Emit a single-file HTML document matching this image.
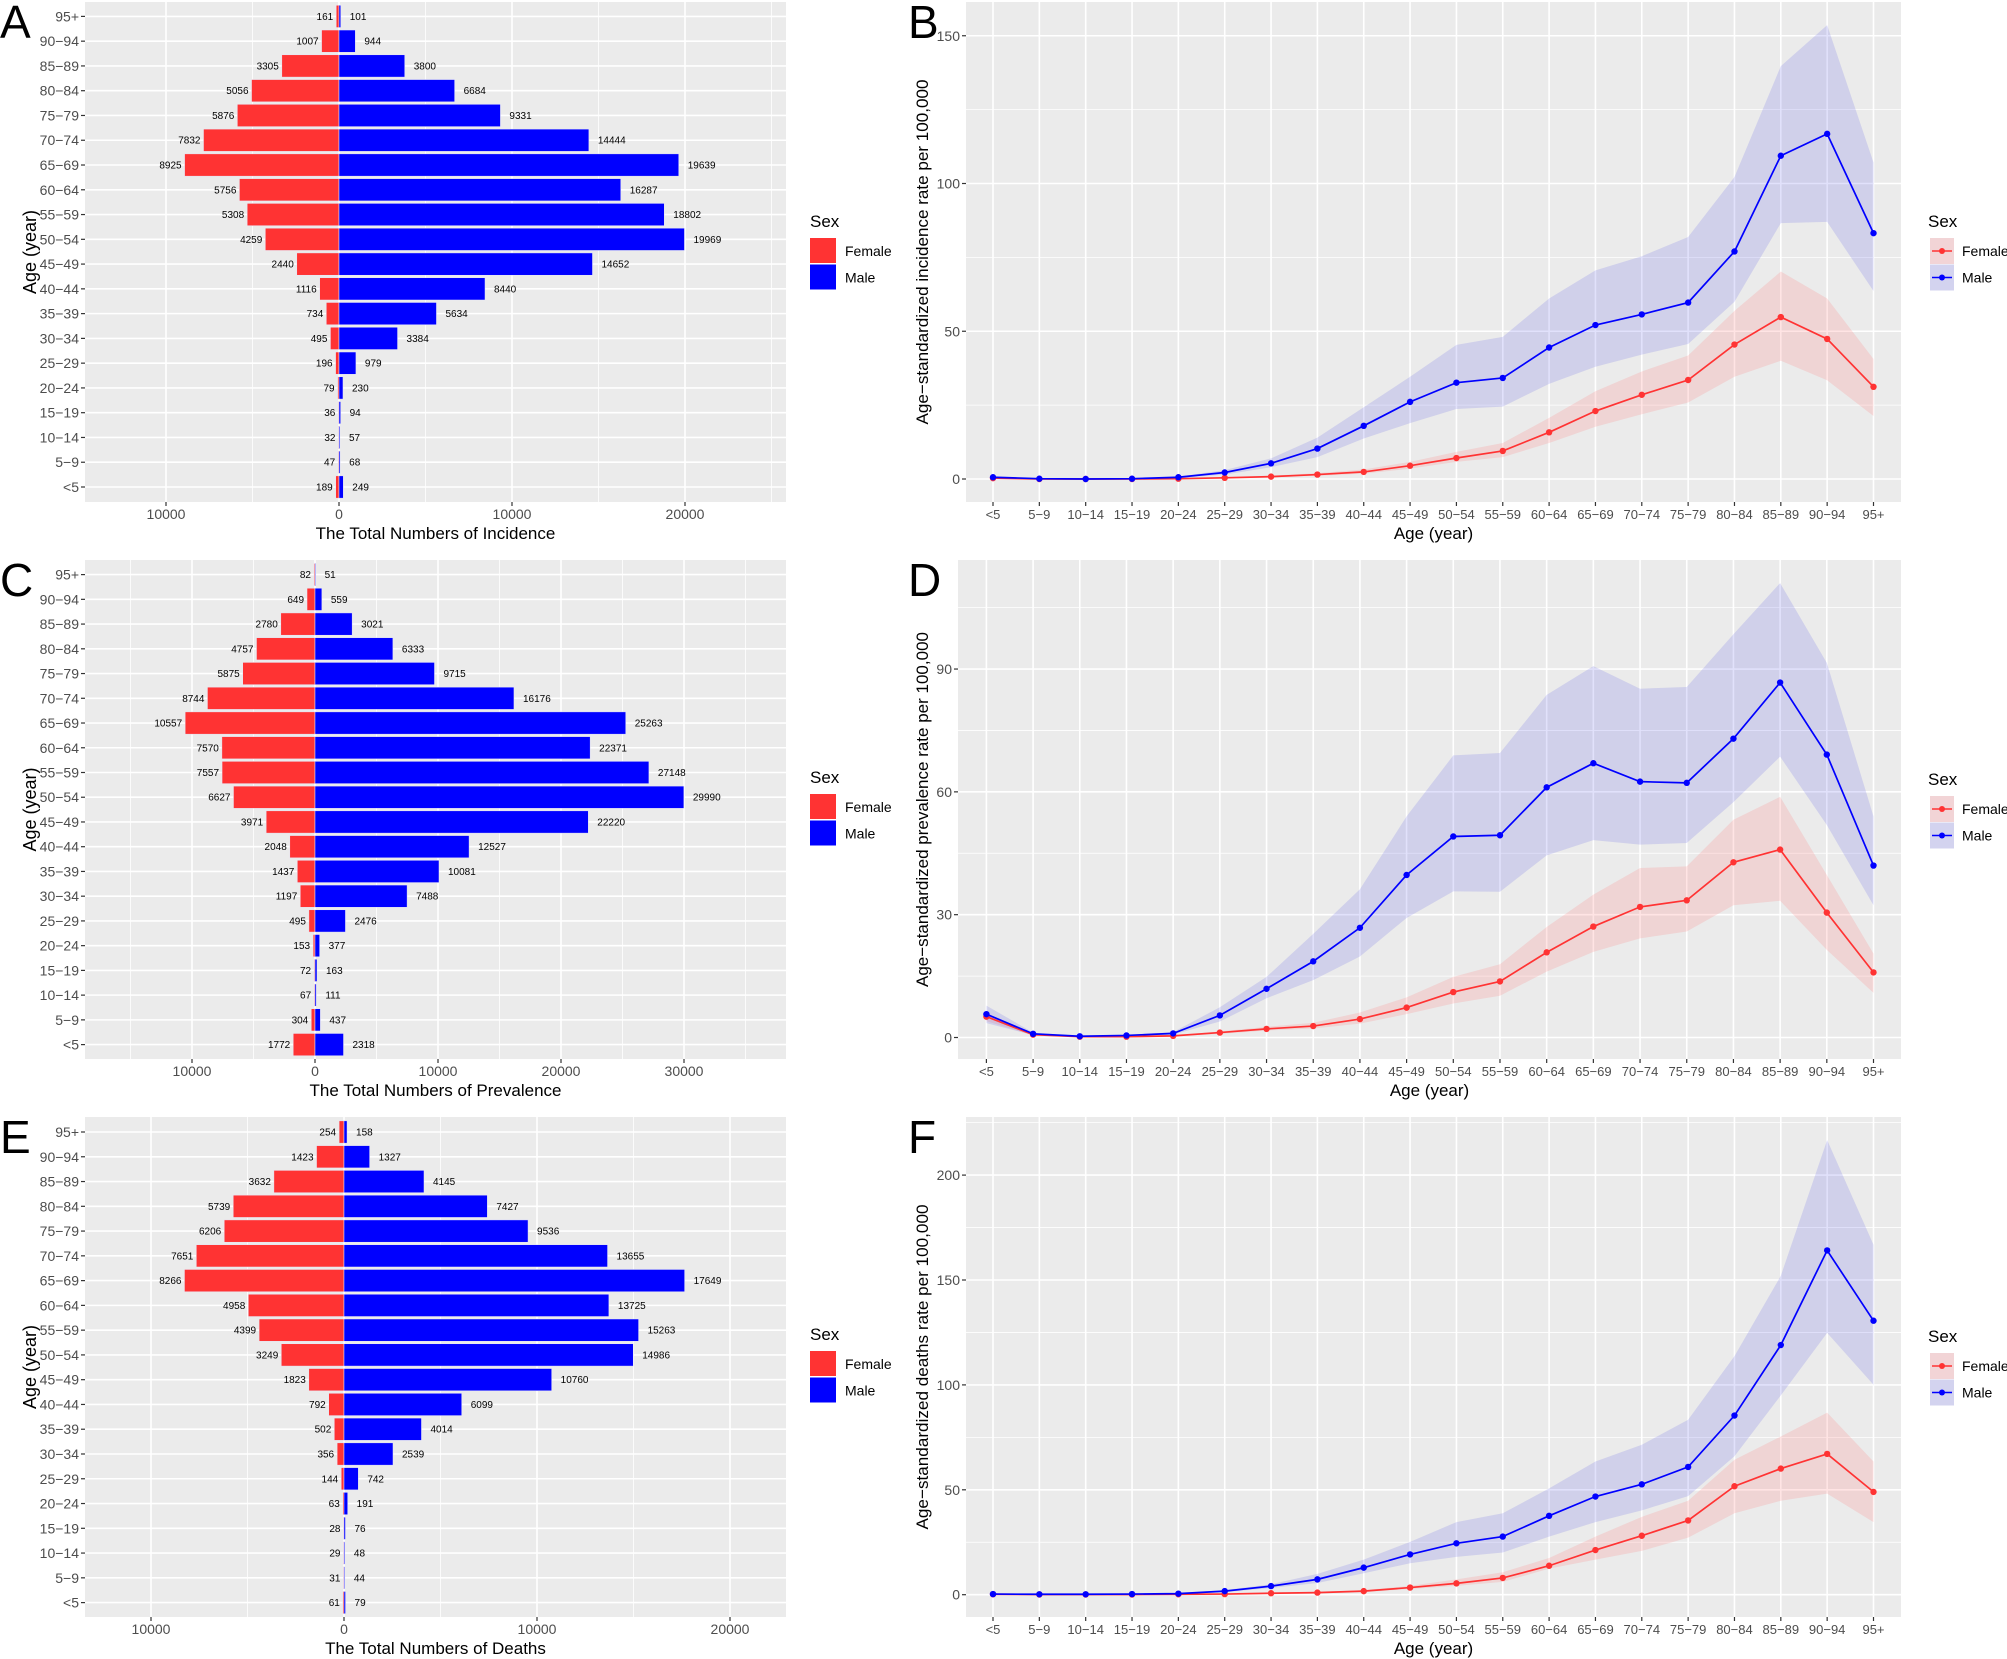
<!DOCTYPE html>
<html><head><meta charset="utf-8">
<style>
html,body{margin:0;padding:0;background:#fff;}
svg{display:block;font-family:"Liberation Sans",Arial,sans-serif;}
</style></head>
<body>
<svg id="fig" width="2007" height="1659" viewBox="0 0 2007 1659" xmlns="http://www.w3.org/2000/svg"></svg>
<script>
const ages = ["<5","5−9","10−14","15−19","20−24","25−29","30−34","35−39","40−44","45−49","50−54","55−59","60−64","65−69","70−74","75−79","80−84","85−89","90−94","95+"];

const incFemale = [189,47,32,36,79,196,495,734,1116,2440,4259,5308,5756,8925,7832,5876,5056,3305,1007,161];
const incMale = [249,68,57,94,230,979,3384,5634,8440,14652,19969,18802,16287,19639,14444,9331,6684,3800,944,101];
const prevFemale = [1772,304,67,72,153,495,1197,1437,2048,3971,6627,7557,7570,10557,8744,5875,4757,2780,649,82];
const prevMale = [2318,437,111,163,377,2476,7488,10081,12527,22220,29990,27148,22371,25263,16176,9715,6333,3021,559,51];
const deathFemale = [61,31,29,28,63,144,356,502,792,1823,3249,4399,4958,8266,7651,6206,5739,3632,1423,254];
const deathMale = [79,44,48,76,191,742,2539,4014,6099,10760,14986,15263,13725,17649,13655,9536,7427,4145,1327,158];

const incRateMale = [0.6,0.1,0,0.1,0.6,2.2,5.3,10.3,18,26.1,32.6,34.2,44.5,52.1,55.7,59.7,77,109.4,116.8,83.2];
const incRateMaleLo = [0.3,0,0,0,0.4,1.5,4,7.4,13.7,18.9,23.7,24.5,32.2,38,42.1,45.7,60,86.6,87,63.6];
const incRateMaleHi = [0.9,0.2,0.1,0.2,0.8,3,7,14,24.3,34.6,45.4,48.1,61.1,70.6,75.4,81.9,102.2,139.7,153.6,107.1];
const incRateFemale = [0.3,0,0,0,0.1,0.4,0.8,1.5,2.4,4.5,7.1,9.5,15.8,23,28.5,33.5,45.5,54.8,47.4,31.2];
const incRateFemaleLo = [0.2,0,0,0,0.05,0.3,0.6,1.1,1.8,3.5,5.8,7.4,12.2,17.7,21.9,25.9,34.6,40,33.4,21.3];
const incRateFemaleHi = [0.4,0.05,0.05,0.05,0.2,0.6,1.1,2,3.2,5.8,9.2,12.2,20.7,29.7,36.4,41.8,56.9,70.2,61.1,40.6];

const prevRateMale = [5.7,0.9,0.3,0.5,1.0,5.4,11.9,18.6,26.8,39.7,49.1,49.4,61.1,67,62.5,62.2,73,86.7,69.1,42];
const prevRateMaleLo = [3.5,0.6,0.2,0.3,0.7,3.9,9.6,14,19.8,29.2,35.7,35.6,44.5,48.2,47.1,47.5,57.5,68.6,51.9,32.3];
const prevRateMaleHi = [7.8,1.2,0.4,0.6,1.3,7.4,14.8,25.3,36.2,54,68.9,69.5,83.7,90.7,85.2,85.6,98.5,111,91.5,54];
const prevRateFemale = [5.1,0.7,0.2,0.2,0.4,1.2,2.1,2.8,4.5,7.3,11.1,13.7,20.8,27.1,31.9,33.5,42.8,45.9,30.5,15.9];
const prevRateFemaleLo = [4,0.5,0.1,0.1,0.3,0.9,1.7,2.2,3.4,5.7,8.3,10.2,16.1,20.9,24.2,25.9,32.3,33.4,21.4,10.9];
const prevRateFemaleHi = [6,0.9,0.3,0.3,0.5,1.5,2.6,3.6,6.1,9.8,14.8,17.9,27,34.9,41.4,41.8,53.2,58.8,39.7,20.5];

const deathRateMale = [0.3,0.2,0.2,0.3,0.5,1.7,4.1,7.3,12.9,19.2,24.5,27.7,37.6,46.8,52.6,60.9,85.4,119,164.1,130.6];
const deathRateMaleLo = [0.2,0.1,0.1,0.2,0.3,1.2,3.2,5.6,10.2,15,18,20.1,27.7,34.6,40.2,47,66,95,124.8,100.1];
const deathRateMaleHi = [0.4,0.3,0.3,0.4,0.7,2.2,5,9.9,16.7,25.2,34.6,38.8,50.7,63.5,71.5,83.4,113.7,152,216.7,166.8];
const deathRateFemale = [0.2,0.1,0.1,0.1,0.2,0.3,0.7,1.0,1.7,3.4,5.4,8,13.8,21.3,28.1,35.4,51.7,60.1,67.1,49];
const deathRateFemaleLo = [0.1,0.05,0.05,0.05,0.1,0.2,0.5,0.8,1.3,2.7,4.2,6.1,12.4,16.7,20.9,27.2,38.8,44.8,48.2,34.6];
const deathRateFemaleHi = [0.3,0.15,0.15,0.15,0.3,0.4,0.9,1.3,2.2,4.2,7.3,10.7,17.5,27.7,37.1,44.8,64.3,75.4,86.8,63.5];

const pyrTicks = [-10000,0,10000,20000,30000];
const pyrTickLabels = ["10000","0","10000","20000","30000"];

const NS="http://www.w3.org/2000/svg";
const svg=document.getElementById('fig');
function mk(tag,attrs,parent,text){
  const e=document.createElementNS(NS,tag);
  for(const k in attrs)e.setAttribute(k,attrs[k]);
  if(text!==undefined)e.textContent=text;
  (parent||svg).appendChild(e);return e;
}
function group(name){const g=mk('g',{});return g;}

function legend(g,x,ySex,yKey,isLine,prefix){
  const lg=mk('g',{},g);
  
  
  const t=mk('text',{x:isLine?x-12:x,y:ySex+6,'font-size':17,fill:'#000'},lg,'Sex');
  
  
  const items=[['Female','#FF3333','#F2D4D6'],['Male','#0000FF','#D3D3EF']];
  items.forEach((it,i)=>{
    const y=yKey+i*26.5;
    const e=mk('g',{},lg);
    
    
    if(isLine){
      mk('rect',{x:x-10,y:y,width:24,height:26,fill:it[2]},e);
      mk('line',{x1:x-8,x2:x+12,y1:y+13,y2:y+13,stroke:it[1],'stroke-width':1.6},e);
      mk('circle',{cx:x+2,cy:y+13,r:3,fill:it[1]},e);
      mk('text',{x:x+22,y:y+18,'font-size':14,fill:'#000'},e,it[0]);
    }else{
      mk('rect',{x:x,y:y,width:26,height:25,fill:it[1]},e);
      mk('text',{x:x+35,y:y+18,'font-size':14,fill:'#000'},e,it[0]);
    }
  });
}

function pyramid(p){
  const g=group(p.name);
  const L=85,R=786,T=p.top,B=p.bottom;
  const xs=v=>p.zero+v*p.scale;
  const n=ages.length;
  const ys=i=>p.yLow-(i)*(p.yLow-p.yHigh)/(n-1);
  const bw=(p.yLow-p.yHigh)/(n-1)*0.9;
  const bg=mk('rect',{x:L,y:T,width:R-L,height:B-T,fill:'#EBEBEB'},g);
  
  const vmin=(L-p.zero)/p.scale,vmax=(R-p.zero)/p.scale;
  for(let v=-40000;v<=40000;v+=5000){
    if(v<vmin||v>vmax)continue;
    const major=(v%10000===0);
    mk('line',{x1:xs(v),x2:xs(v),y1:T,y2:B,stroke:'#fff','stroke-width':major?1.6:0.8},g);
  }
  for(let i=0;i<n;i++) mk('line',{x1:L,x2:R,y1:ys(i),y2:ys(i),stroke:'#fff','stroke-width':1.6},g);
  for(let i=0;i<n;i++){
    const y=ys(i);
    const f=mk('rect',{x:xs(-p.female[i]),y:y-bw/2,width:p.female[i]*p.scale,height:bw,fill:'#FF3333',stroke:'#E8E8F8','stroke-width':0.5},g);
    
    const m=mk('rect',{x:xs(0),y:y-bw/2,width:p.male[i]*p.scale,height:bw,fill:'#0000FF',stroke:'#E8E8F8','stroke-width':0.5},g);
    
    const tf=mk('text',{x:xs(-p.female[i])-3,y:y+3.5,'font-size':10,'text-anchor':'end',fill:'#000'},g,String(p.female[i]));
    
    const tm=mk('text',{x:xs(p.male[i])+9,y:y+3.5,'font-size':10,fill:'#000'},g,String(p.male[i]));
    
    mk('line',{x1:L-4,x2:L,y1:y,y2:y,stroke:'#333','stroke-width':1.2},g);
    const yl=mk('text',{x:L-6,y:y+5,'font-size':14,'text-anchor':'end',fill:'#4D4D4D'},g,ages[i]);
    
  }
  pyrTicks.forEach((v,k)=>{
    if(v<vmin||v>vmax)return;
    mk('line',{x1:xs(v),x2:xs(v),y1:B,y2:B+4,stroke:'#333','stroke-width':1.2},g);
    const t=mk('text',{x:xs(v),y:B+17,'font-size':14,'text-anchor':'middle',fill:'#4D4D4D'},g,pyrTickLabels[k]);
    
  });
  const xt=mk('text',{x:(L+R)/2,y:B+37,'font-size':17,'text-anchor':'middle',fill:'#000'},g,p.xtitle);
  
  const yt=mk('text',{x:0,y:0,'font-size':18,'text-anchor':'middle',fill:'#000',transform:`translate(36,${(T+B)/2}) rotate(-90)`},g,'Age (year)');
  
  const pl=mk('text',{x:0,y:T+36,'font-size':46,fill:'#000'},g,p.letter);
  
  legend(g,810,p.legY,p.legY+17,false,p.name);
}

function linechart(p){
  const g=group(p.name);
  const L=p.left,R=1901,T=p.top,B=p.bottom;
  const n=ages.length;
  const xs=i=>p.x0+i*(p.x1-p.x0)/(n-1);
  const ys=v=>p.y0-v*p.ppu;
  const bg=mk('rect',{x:L,y:T,width:R-L,height:B-T,fill:'#EBEBEB'},g);
  
  const vmax=(p.y0-T)/p.ppu;
  for(let v=p.step/2;v<=vmax;v+=p.step) mk('line',{x1:L,x2:R,y1:ys(v),y2:ys(v),stroke:'#fff','stroke-width':0.8},g);
  for(let v=0;v<=vmax;v+=p.step){
    mk('line',{x1:L,x2:R,y1:ys(v),y2:ys(v),stroke:'#fff','stroke-width':1.6},g);
    mk('line',{x1:L-4,x2:L,y1:ys(v),y2:ys(v),stroke:'#333','stroke-width':1.2},g);
    const t=mk('text',{x:L-6,y:ys(v)+5,'font-size':14,'text-anchor':'end',fill:'#4D4D4D'},g,String(v));
    
  }
  for(let i=0;i<n;i++){
    mk('line',{x1:xs(i),x2:xs(i),y1:T,y2:B,stroke:'#fff','stroke-width':1.6},g);
    mk('line',{x1:xs(i),x2:xs(i),y1:B,y2:B+4,stroke:'#333','stroke-width':1.2},g);
    const t=mk('text',{x:xs(i),y:B+17,'font-size':13,'text-anchor':'middle',fill:'#4D4D4D'},g,ages[i]);
    
  }
  const series=[['female',p.f,p.fLo,p.fHi,'#FF3333','rgba(255,120,120,0.2)'],['male',p.m,p.mLo,p.mHi,'#0000FF','rgba(80,80,230,0.17)']];
  series.forEach(s=>{
    let d='';
    for(let i=0;i<n;i++) d+=(i?'L':'M')+xs(i)+','+ys(s[3][i]);
    for(let i=n-1;i>=0;i--) d+='L'+xs(i)+','+ys(s[2][i]);
    const r=mk('path',{d:d+'Z',fill:s[5]},g);
    
  });
  series.forEach(s=>{
    let d='';
    for(let i=0;i<n;i++) d+=(i?'L':'M')+xs(i)+','+ys(s[1][i]);
    const l=mk('path',{d:d,fill:'none',stroke:s[4],'stroke-width':1.7},g);
    
    for(let i=0;i<n;i++){
      const c=mk('circle',{cx:xs(i),cy:ys(s[1][i]),r:3.2,fill:s[4]},g);
      
    }
  });
  const xt=mk('text',{x:(L+R)/2,y:B+37,'font-size':17,'text-anchor':'middle',fill:'#000'},g,'Age (year)');
  
  const yt=mk('text',{x:0,y:0,'font-size':17,'text-anchor':'middle',fill:'#000',textLength:p.ytLen,lengthAdjust:'spacingAndGlyphs',transform:`translate(928,${(T+B)/2}) rotate(-90)`},g,p.ytitle);
  
  const pl=mk('text',{x:908,y:T+36,'font-size':46,fill:'#000'},g,p.letter);
  
  legend(g,1940,p.legY,p.legY+17,true,p.name);
}

pyramid({name:'panel-a-incidence-pyramid',letter:'A',top:2,bottom:502,yHigh:16.4,yLow:487,zero:339,scale:173/10000,female:incFemale,male:incMale,xtitle:'The Total Numbers of Incidence',legY:221});
pyramid({name:'panel-c-prevalence-pyramid',letter:'C',top:560,bottom:1059,yHigh:574.6,yLow:1044.6,zero:315,scale:123/10000,female:prevFemale,male:prevMale,xtitle:'The Total Numbers of Prevalence',legY:777});
pyramid({name:'panel-e-deaths-pyramid',letter:'E',top:1117,bottom:1617,yHigh:1132,yLow:1602.6,zero:344,scale:193/10000,female:deathFemale,male:deathMale,xtitle:'The Total Numbers of Deaths',legY:1334});

linechart({name:'panel-b-incidence-rate',letter:'B',left:966,top:2,bottom:502,x0:993,x1:1873.5,y0:479,ppu:2.955,step:50,
  f:incRateFemale,fLo:incRateFemaleLo,fHi:incRateFemaleHi,m:incRateMale,mLo:incRateMaleLo,mHi:incRateMaleHi,
  ytitle:'Age−standardized incidence rate per 100,000',ytLen:345,legY:221});
linechart({name:'panel-d-prevalence-rate',letter:'D',left:958,top:560,bottom:1059,x0:986.4,x1:1873.5,y0:1037.5,ppu:4.094,step:30,
  f:prevRateFemale,fLo:prevRateFemaleLo,fHi:prevRateFemaleHi,m:prevRateMale,mLo:prevRateMaleLo,mHi:prevRateMaleHi,
  ytitle:'Age−standardized prevalence rate per 100,000',ytLen:355,legY:779});
linechart({name:'panel-f-deaths-rate',letter:'F',left:966,top:1117,bottom:1617,x0:993,x1:1873.5,y0:1594.7,ppu:2.098,step:50,
  f:deathRateFemale,fLo:deathRateFemaleLo,fHi:deathRateFemaleHi,m:deathRateMale,mLo:deathRateMaleLo,mHi:deathRateMaleHi,
  ytitle:'Age−standardized deaths rate per 100,000',ytLen:325,legY:1336});
</script>
</body></html>
